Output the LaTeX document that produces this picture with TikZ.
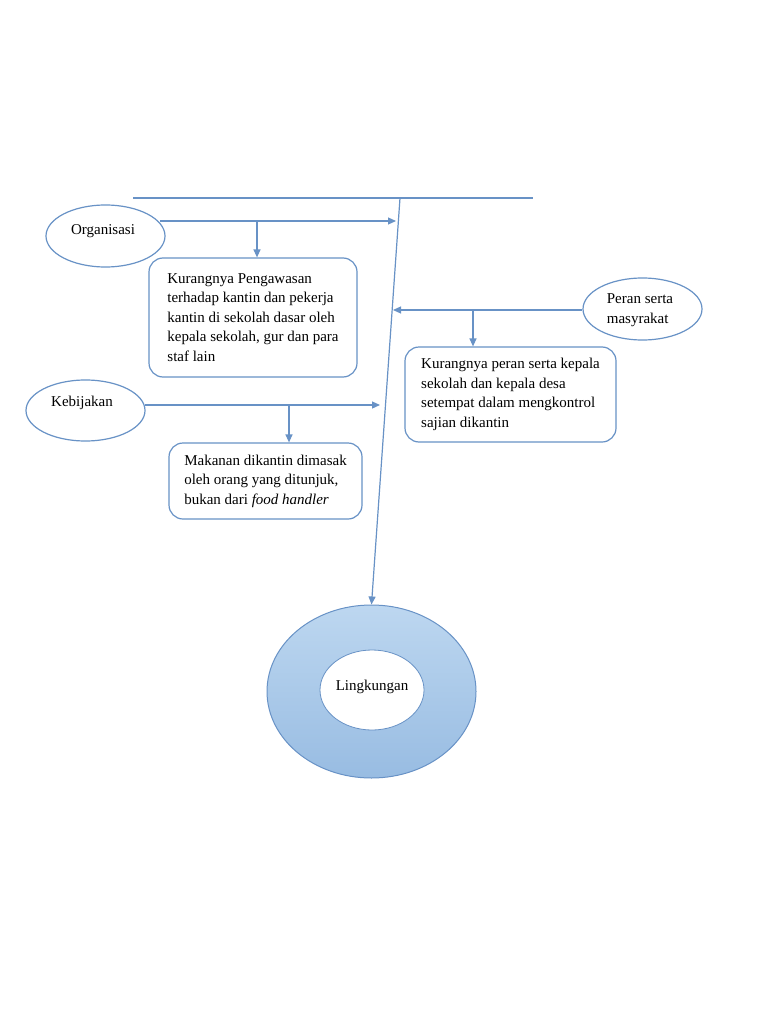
\documentclass[tikz,border=0pt]{standalone}
\usepackage{fontspec}
\setmainfont{Liberation Serif}
\usetikzlibrary{shapes.geometric,arrows.meta}
\definecolor{ln}{RGB}{104,146,198}
\definecolor{ringtop}{RGB}{189,215,240}
\definecolor{ringbot}{RGB}{152,188,226}
\tikzset{
  conn/.style={draw=ln, line width=1.2pt},
  arr/.style={conn, -{Triangle[length=8pt,width=7pt]}},
  oval/.style={ellipse, draw=ln, line width=1.2pt, fill=white, inner sep=0pt},
  txtbox/.style={draw=ln, line width=1.2pt, rounded corners=14pt, fill=white, align=left, inner sep=0pt},
  lbl/.style={inner sep=0pt, align=left}
}
\begin{document}
\begin{tikzpicture}[x=1pt,y=-1pt,font=\fontsize{15pt}{19.5pt}\selectfont]
\useasboundingbox (0,0) rectangle (768,1024);
\fill[white] (0,0) rectangle (768,1024);

% top line and spine
\coordinate (tl) at (133,198);
\coordinate (tr) at (533,198);
\coordinate (st) at (400,198);
\draw[conn] (tl) -- (tr);

% outer ring
\node[ellipse, draw=ln, line width=1pt, top color=ringtop, bottom color=ringbot,
      minimum width=209, minimum height=173] (outer) at (371.5,691.5) {};
\node[oval, line width=0.8pt, minimum width=104, minimum height=80] (inner) at (372,690) {};
\node[lbl] (lingt) at (372,687) {Lingkungan};

\draw[arr] (st) -- (outer.north);

% Organisasi
\node[oval, minimum width=119, minimum height=62] (org) at (105.5,236) {};
\node[lbl] (orgt) at (103,231) {Organisasi};
\coordinate (orgEnd) at (396,221);
\coordinate (orgBr) at (257,221);
\draw[arr] (160,221) -- (orgEnd);
\node[txtbox, minimum width=208, minimum height=119] (b1) at (253,317.5)
  {Kurangnya Pengawasan\\terhadap kantin dan pekerja\\kantin di sekolah dasar oleh\\kepala sekolah, gur dan para\\staf lain};
\draw[arr] (orgBr) -- (b1.north -| orgBr);

% Peran serta masyrakat
\node[oval, minimum width=119, minimum height=62] (per) at (642.5,309) {};
\node[lbl] (pert) at (640,310) {Peran serta\\masyrakat};
\coordinate (perEnd) at (393,310);
\coordinate (perBr) at (473,310);
\draw[arr] (per.west |- perEnd) -- (perEnd);
\node[txtbox, minimum width=211, minimum height=95] (b2) at (510.5,394.5)
  {Kurangnya peran serta kepala\\sekolah dan kepala desa\\setempat dalam mengkontrol\\sajian dikantin};
\draw[arr] (perBr) -- (b2.north -| perBr);

% Kebijakan
\node[oval, minimum width=119, minimum height=61] (keb) at (85.5,410.5) {};
\node[lbl] (kebt) at (82,403) {Kebijakan};
\coordinate (kebEnd) at (380,405);
\coordinate (kebBr) at (289,405);
\draw[arr] (145,405) -- (kebEnd);
\node[txtbox, minimum width=193, minimum height=76] (b3) at (265.5,481)
  {Makanan dikantin dimasak\\oleh orang yang ditunjuk,\\bukan dari \textit{food handler}};
\draw[arr] (kebBr) -- (b3.north -| kebBr);
\end{tikzpicture}
\end{document}
